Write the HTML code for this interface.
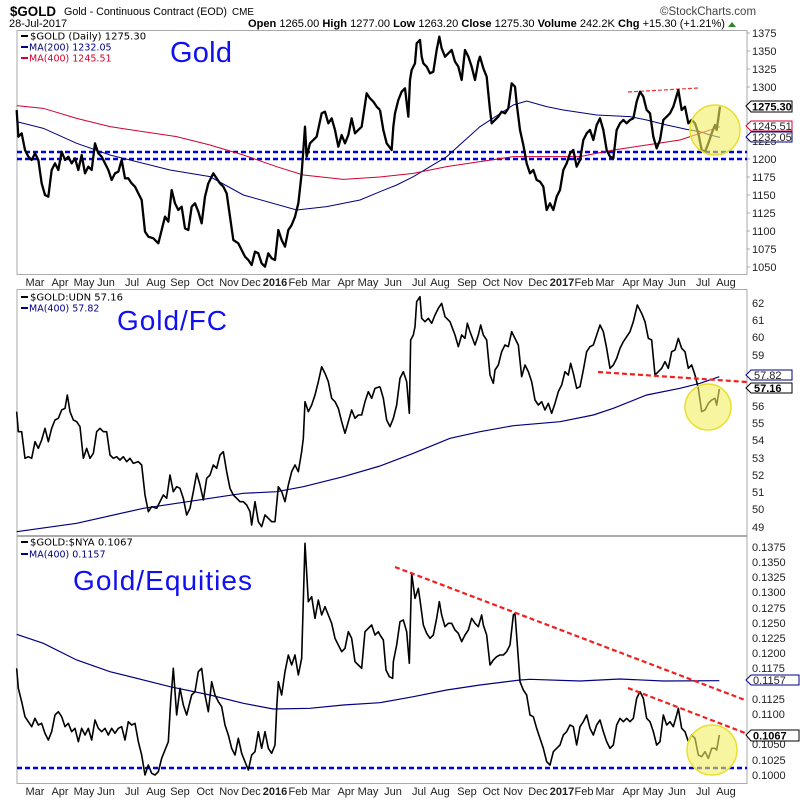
<!DOCTYPE html>
<html><head><meta charset="utf-8"><style>
html,body{margin:0;padding:0;background:#fff;}
svg{display:block;font-family:"Liberation Sans",Arial,sans-serif;}
</style></head><body>
<svg width="800" height="800" viewBox="0 0 800 800" xmlns="http://www.w3.org/2000/svg">
<rect width="800" height="800" fill="#fff"/>
<text x="10" y="16" font-size="14" font-weight="bold" textLength="46" lengthAdjust="spacingAndGlyphs">$GOLD</text>
<text x="64" y="15" font-size="11" textLength="163" lengthAdjust="spacingAndGlyphs">Gold - Continuous Contract (EOD)</text>
<text x="232" y="15" font-size="10.5" textLength="22" lengthAdjust="spacingAndGlyphs">CME</text>
<text x="660" y="15" font-size="11.5" fill="#444">©StockCharts.com</text>
<text x="9" y="27" font-size="11">28-Jul-2017</text>
<text x="248" y="27" font-size="11" textLength="477" lengthAdjust="spacingAndGlyphs"><tspan font-weight="bold">Open</tspan> 1265.00 <tspan font-weight="bold">High</tspan> 1277.00 <tspan font-weight="bold">Low</tspan> 1263.20 <tspan font-weight="bold">Close</tspan> 1275.30 <tspan font-weight="bold">Volume</tspan> 242.2K <tspan font-weight="bold">Chg</tspan> +15.30 (+1.21%)</text>
<polygon points="728,27 732,22 736,27" fill="#2a8a2a"/>

<g fill="none" stroke="#aaa" stroke-width="1">
<rect x="17" y="30.5" width="730" height="244"/>
<rect x="17" y="289.5" width="730" height="246"/>
<rect x="17" y="536.5" width="730" height="247"/>
</g>

<!-- PANEL 1 -->
<g font-size="11" fill="#222">
<text x="752" y="37">1375</text><text x="752" y="55">1350</text><text x="752" y="73">1325</text><text x="752" y="91">1300</text><text x="752" y="145">1225</text><text x="752" y="163">1200</text><text x="752" y="181">1175</text><text x="752" y="199">1150</text><text x="752" y="217">1125</text><text x="752" y="235">1100</text><text x="752" y="253">1075</text><text x="752" y="271">1050</text>
</g>
<g stroke="#aaa"><line x1="747" y1="33" x2="750" y2="33"/><line x1="747" y1="51" x2="750" y2="51"/><line x1="747" y1="69" x2="750" y2="69"/><line x1="747" y1="87" x2="750" y2="87"/><line x1="747" y1="105" x2="750" y2="105"/><line x1="747" y1="123" x2="750" y2="123"/><line x1="747" y1="141" x2="750" y2="141"/><line x1="747" y1="159" x2="750" y2="159"/><line x1="747" y1="177" x2="750" y2="177"/><line x1="747" y1="195" x2="750" y2="195"/><line x1="747" y1="213" x2="750" y2="213"/><line x1="747" y1="231" x2="750" y2="231"/><line x1="747" y1="249" x2="750" y2="249"/><line x1="747" y1="267" x2="750" y2="267"/></g>

<text x="170" y="62" font-size="29" fill="#1010f0" textLength="62">Gold</text>
<g font-family="'DejaVu Sans',sans-serif" font-size="10">
<line x1="21" y1="36" x2="28" y2="36" stroke="#000" stroke-width="2"/><text x="30" y="39.5" fill="#000">$GOLD (Daily) 1275.30</text>
<line x1="21" y1="47" x2="28" y2="47" stroke="#000080" stroke-width="2"/><text x="29" y="50.5" fill="#000080" font-size="9.5">MA(200) 1232.05</text>
<line x1="21" y1="58" x2="28" y2="58" stroke="#d00030" stroke-width="2"/><text x="29" y="61.5" fill="#d00030" font-size="9.5">MA(400) 1245.51</text>
</g>

<line x1="17" y1="152" x2="747" y2="152" stroke="#0000e8" stroke-width="2.5" stroke-dasharray="5,3"/>
<line x1="17" y1="159" x2="747" y2="159" stroke="#0000e8" stroke-width="2.5" stroke-dasharray="5,3"/>
<line x1="628" y1="92" x2="698" y2="88" stroke="#f03030" stroke-width="1.2" stroke-dasharray="4,2"/>

<g transform="translate(10,30) scale(0.33333)" fill="none">
<polyline vector-effect="non-scaling-stroke" stroke="#000080" stroke-width="1" points="20,275 100,295 200,340 300,375 480,420 600,440 700,495 860,540 950,530 1050,510 1110,485"/>
<polyline vector-effect="non-scaling-stroke" stroke="#d00030" stroke-width="1" points="20,227 100,235 200,265 300,290 500,320 600,345 700,375 800,410 880,435 1000,448 1110,441"/>
<polyline vector-effect="non-scaling-stroke" stroke="#000" stroke-width="2.3" stroke-linejoin="round" points="20,240 25,320 35,310 45,360 55,380 65,390 75,370 85,390 95,460 105,495 115,500 125,420 135,400 145,420 155,365 165,390 175,380 185,400 195,385 205,420 215,375 225,430 235,410 245,420 255,340 265,370 275,380 285,400 295,420 305,450 315,430 325,425 335,390 345,445 355,445 365,460 375,470 385,490 395,510 405,605 415,620 430,625 445,640 455,600 465,560 475,575 485,480 495,520 505,540 515,530 525,595 535,600 545,530 555,520 565,545 575,580 585,500 595,460 605,440 610,430 620,445 630,460 640,470 650,490 660,560 670,630 685,640 695,660 705,680 715,690 725,705 735,665 745,670 755,700 765,710 775,670 785,685 795,690 805,600 815,630 825,650 835,600 845,585 855,560 865,520 875,430 885,290 890,380 900,340 910,330 920,320 935,250 945,245 955,280 965,265 975,300 985,350 995,315 1005,340 1015,315 1025,265 1035,310 1045,300 1055,290 1070,190 1080,205 1090,215 1100,230 1110,240"/>
</g>
<g transform="translate(380,30) scale(0.33333)" fill="none">
<polyline vector-effect="non-scaling-stroke" stroke="#000080" stroke-width="1" points="0,485 50,465 100,440 200,380 300,290 400,225 440,213 500,230 550,240 650,255 750,260 800,270 860,285 920,298 960,305 990,315 1020,322"/>
<polyline vector-effect="non-scaling-stroke" stroke="#d00030" stroke-width="1" points="0,441 100,430 200,410 300,395 400,380 500,380 600,380 700,360 800,345 900,330 1020,290"/>
<polyline vector-effect="non-scaling-stroke" stroke="#000" stroke-width="2.3" stroke-linejoin="round" points="0,240 10,300 20,340 35,360 40,290 45,250 55,210 65,185 75,175 85,260 90,150 95,120 105,100 110,40 120,30 125,80 130,100 140,110 150,130 160,125 170,60 178,20 185,55 195,80 205,70 215,60 225,95 235,110 245,150 255,60 265,80 275,110 285,150 295,95 300,80 310,115 320,140 330,240 335,280 345,270 355,260 365,245 375,250 385,235 395,160 405,170 410,220 420,300 430,345 440,400 450,430 460,420 470,450 480,455 490,470 500,540 510,520 520,540 530,500 540,480 550,420 560,400 570,370 580,360 590,410 600,390 610,330 620,310 630,300 640,330 650,285 660,265 670,300 680,360 690,380 700,385 710,300 720,280 730,270 740,280 750,270 760,265 770,215 780,185 790,200 800,240 810,250 820,320 830,355 840,330 850,270 860,260 870,250 880,230 895,180 905,240 915,230 925,280 935,270 945,280 955,310 965,360 975,365 985,340 995,310 1005,285 1010,300 1020,230"/>
</g>
<circle cx="715" cy="130" r="25" fill="#f2ee60" fill-opacity="0.6" stroke="#e8e030" stroke-width="1.5"/>

<g font-size="11">
<polygon points="746,106 751,101 792,101 792,112 751,112" fill="#fff" stroke="#000"/>
<text x="752" y="110.5" font-weight="bold">1275.30</text>
<polygon points="746,126 751,121 792,121 792,131 751,131" fill="#fff" stroke="#d00030"/>
<text x="752" y="130" fill="#222">1245.51</text>
<polygon points="746,137 751,132 792,132 792,142 751,142" fill="#fff" stroke="#000080"/>
<text x="752" y="141" fill="#222">1232.05</text>
</g>

<g font-size="11" fill="#222" text-anchor="middle">
<text x="35" y="286">Mar</text><text x="60" y="286">Apr</text><text x="84" y="286">May</text><text x="106" y="286">Jun</text><text x="132" y="286">Jul</text><text x="156" y="286">Aug</text><text x="180" y="286">Sep</text><text x="205" y="286">Oct</text><text x="229" y="286">Nov</text><text x="251" y="286">Dec</text><text x="275" y="286" font-weight="bold">2016</text><text x="298" y="286">Feb</text><text x="321" y="286">Mar</text><text x="346" y="286">Apr</text><text x="368" y="286">May</text><text x="393" y="286">Jun</text><text x="419" y="286">Jul</text><text x="440" y="286">Aug</text><text x="467" y="286">Sep</text><text x="491" y="286">Oct</text><text x="513" y="286">Nov</text><text x="538" y="286">Dec</text><text x="562" y="286" font-weight="bold">2017</text><text x="584" y="286">Feb</text><text x="605" y="286">Mar</text><text x="631" y="286">Apr</text><text x="653" y="286">May</text><text x="677" y="286">Jun</text><text x="703" y="286">Jul</text><text x="726" y="286">Aug</text>
</g>
<g font-size="11" fill="#222" text-anchor="middle">
<text x="35" y="795">Mar</text><text x="60" y="795">Apr</text><text x="84" y="795">May</text><text x="106" y="795">Jun</text><text x="132" y="795">Jul</text><text x="156" y="795">Aug</text><text x="180" y="795">Sep</text><text x="205" y="795">Oct</text><text x="229" y="795">Nov</text><text x="251" y="795">Dec</text><text x="275" y="795" font-weight="bold">2016</text><text x="298" y="795">Feb</text><text x="321" y="795">Mar</text><text x="346" y="795">Apr</text><text x="368" y="795">May</text><text x="393" y="795">Jun</text><text x="419" y="795">Jul</text><text x="440" y="795">Aug</text><text x="467" y="795">Sep</text><text x="491" y="795">Oct</text><text x="513" y="795">Nov</text><text x="538" y="795">Dec</text><text x="562" y="795" font-weight="bold">2017</text><text x="584" y="795">Feb</text><text x="605" y="795">Mar</text><text x="631" y="795">Apr</text><text x="653" y="795">May</text><text x="677" y="795">Jun</text><text x="703" y="795">Jul</text><text x="726" y="795">Aug</text>
</g>

<!-- PANEL 2 -->
<g font-size="11" fill="#222">
<text x="752" y="307">62</text><text x="752" y="324">61</text><text x="752" y="341">60</text><text x="752" y="359">59</text><text x="752" y="410">56</text><text x="752" y="427">55</text><text x="752" y="444">54</text><text x="752" y="462">53</text><text x="752" y="479">52</text><text x="752" y="496">51</text><text x="752" y="513">50</text><text x="752" y="531">49</text>
</g>
<text x="117" y="330" font-size="28" fill="#1010f0" textLength="110">Gold/FC</text>
<g font-family="'DejaVu Sans',sans-serif" font-size="10">
<line x1="21" y1="297" x2="28" y2="297" stroke="#000" stroke-width="2"/><text x="30" y="300.5" fill="#000">$GOLD:UDN 57.16</text>
<line x1="21" y1="308" x2="28" y2="308" stroke="#000080" stroke-width="2"/><text x="29" y="311.5" fill="#000080" font-size="9.5">MA(400) 57.82</text>
</g>
<g transform="translate(10,285) scale(0.33333)" fill="none">
<polyline vector-effect="non-scaling-stroke" stroke="#000080" stroke-width="1.2" points="20,740 200,715 400,670 500,655 600,640 700,625 800,620 880,605 1000,575 1110,543"/>
<polyline vector-effect="non-scaling-stroke" stroke="#000" stroke-width="1.6" stroke-linejoin="round" points="20,380 25,440 35,440 45,520 55,515 65,520 75,470 85,490 95,465 105,430 115,470 125,430 135,405 145,400 155,375 165,370 172,330 180,380 190,405 200,410 210,425 220,520 230,490 240,520 250,505 260,440 270,430 280,440 290,440 300,510 310,520 320,515 330,525 340,515 350,530 360,520 370,535 385,530 395,540 405,630 415,680 425,665 440,670 450,650 460,630 470,640 480,570 490,620 500,605 510,610 520,640 530,690 540,670 550,620 560,565 570,600 580,645 590,580 600,570 610,540 620,550 630,510 640,500 650,560 660,610 670,630 680,640 690,650 700,650 710,660 720,680 725,720 735,650 745,710 755,725 765,690 775,700 785,710 795,710 805,605 815,620 825,650 835,600 845,560 855,540 865,560 875,500 880,460 885,350 895,380 905,360 915,330 925,290 935,245 945,265 955,290 965,340 975,350 985,370 995,410 1005,445 1015,410 1025,375 1035,400 1045,390 1055,390 1065,350 1075,320 1085,340 1095,310 1110,305"/>
</g>
<g transform="translate(380,285) scale(0.33333)" fill="none">
<polyline vector-effect="non-scaling-stroke" stroke="#000080" stroke-width="1.2" points="0,543 100,505 210,460 300,440 400,422 540,410 640,390 700,370 800,330 900,310 960,295 1018,275"/>
<polyline vector-effect="non-scaling-stroke" stroke="#000" stroke-width="1.6" stroke-linejoin="round" points="0,305 10,340 20,405 30,425 40,400 50,360 60,280 70,260 80,290 88,385 92,165 100,150 105,125 110,50 120,35 125,100 135,110 145,100 155,115 165,90 175,70 185,55 195,95 210,110 225,150 235,185 245,150 255,160 262,115 270,140 285,180 295,150 302,120 310,150 320,165 330,270 340,295 345,255 355,240 365,200 375,180 385,185 395,140 405,160 415,180 425,275 435,240 445,260 455,290 465,345 475,360 485,350 495,375 505,355 515,385 525,355 535,320 545,300 555,260 565,270 572,235 580,265 590,310 600,305 610,255 620,200 630,185 640,180 650,150 660,120 670,140 680,190 690,250 700,240 710,220 720,190 730,170 740,155 750,140 760,110 772,60 785,85 795,110 805,160 815,165 825,270 835,260 845,250 855,230 865,250 875,200 885,195 895,160 905,190 915,200 925,250 935,240 945,270 955,310 965,380 975,375 985,355 995,345 1005,340 1010,360 1018,312"/>
</g>
<line x1="598" y1="372" x2="747" y2="382" stroke="#f02020" stroke-width="2.2" stroke-dasharray="5,3"/>
<circle cx="708" cy="407" r="23" fill="#f2ee60" fill-opacity="0.6" stroke="#e8e030" stroke-width="1.5"/>
<g font-size="11">
<polygon points="746,375 751,370 792,370 792,380 751,380" fill="#fff" stroke="#000080"/>
<text x="754" y="379" fill="#222">57.82</text>
<polygon points="746,388 751,383 792,383 792,393 751,393" fill="#fff" stroke="#000"/>
<text x="754" y="392" font-weight="bold">57.16</text>
</g>

<!-- PANEL 3 -->
<g font-size="11" fill="#222">
<text x="752" y="551">0.1375</text><text x="752" y="566">0.1350</text><text x="752" y="581">0.1325</text><text x="752" y="596">0.1300</text><text x="752" y="612">0.1275</text><text x="752" y="627">0.1250</text><text x="752" y="642">0.1225</text><text x="752" y="657">0.1200</text><text x="752" y="672">0.1175</text><text x="752" y="703">0.1125</text><text x="752" y="718">0.1100</text><text x="752" y="748">0.1050</text><text x="752" y="764">0.1025</text><text x="752" y="779">0.1000</text>
</g>
<text x="73" y="590" font-size="28" fill="#1010f0" textLength="179">Gold/Equities</text>
<g font-family="'DejaVu Sans',sans-serif" font-size="10">
<line x1="21" y1="542" x2="28" y2="542" stroke="#000" stroke-width="2"/><text x="30" y="545.5" fill="#000">$GOLD:$NYA 0.1067</text>
<line x1="21" y1="554" x2="28" y2="554" stroke="#000080" stroke-width="2"/><text x="29" y="557.5" fill="#000080" font-size="9.5">MA(400) 0.1157</text>
</g>
<line x1="17" y1="768" x2="747" y2="768" stroke="#0000e8" stroke-width="2.5" stroke-dasharray="5,3"/>
<g transform="translate(10,535) scale(0.33333)" fill="none">
<polyline vector-effect="non-scaling-stroke" stroke="#000080" stroke-width="1.2" points="20,298 100,325 200,375 300,410 480,455 600,480 700,505 790,522 900,520 1000,510 1110,503"/>
<polyline vector-effect="non-scaling-stroke" stroke="#000" stroke-width="1.6" stroke-linejoin="round" points="20,400 25,460 35,500 45,545 55,560 65,575 75,550 85,570 95,565 105,595 115,615 125,590 135,540 145,530 155,545 165,575 175,565 185,590 195,580 205,620 215,580 225,600 235,580 245,615 255,555 265,580 275,590 285,580 295,600 305,580 315,595 325,580 335,575 345,615 355,560 365,570 375,565 385,620 395,660 405,720 415,690 425,715 435,720 445,710 455,670 465,645 475,620 482,500 490,400 500,540 510,460 520,510 530,540 545,480 555,470 565,410 575,400 585,480 595,530 605,440 615,480 625,500 635,515 645,570 655,600 665,640 675,660 685,610 695,655 705,680 715,705 725,660 735,650 745,590 755,640 765,590 775,640 785,655 795,630 800,520 805,440 815,480 825,410 835,360 845,390 855,360 865,420 875,370 880,195 885,25 895,200 905,185 915,250 925,195 935,240 945,215 955,240 965,265 975,310 985,330 995,350 1005,340 1015,290 1025,310 1035,380 1045,390 1055,400 1065,290 1075,280 1085,270 1095,300 1105,290 1110,300"/>
</g>
<g transform="translate(380,535) scale(0.33333)" fill="none">
<polyline vector-effect="non-scaling-stroke" stroke="#000080" stroke-width="1.2" points="0,503 100,485 200,465 300,450 420,435 450,433 600,438 720,432 850,438 1018,437"/>
<polyline vector-effect="non-scaling-stroke" stroke="#000" stroke-width="1.6" stroke-linejoin="round" points="0,300 10,315 18,405 28,425 38,430 40,380 50,330 60,260 70,255 80,290 88,385 95,115 105,190 115,160 120,195 130,270 140,295 150,310 160,300 170,250 178,200 185,240 195,275 205,265 215,265 225,285 235,295 245,320 255,300 265,285 275,250 285,265 295,275 305,240 310,270 320,300 330,390 340,375 350,365 360,360 370,360 380,350 390,330 400,240 405,235 412,330 420,440 430,465 440,480 450,540 460,545 470,580 480,610 490,640 500,680 510,690 520,650 530,640 540,630 550,600 560,590 570,570 580,575 590,630 600,575 610,560 620,540 630,580 640,600 650,570 660,555 670,590 680,620 690,640 700,630 710,570 720,550 730,560 740,550 750,560 760,550 770,490 780,470 790,490 800,550 810,560 820,590 830,630 840,620 850,540 860,570 870,560 880,575 890,540 895,520 905,580 915,590 925,620 935,600 945,610 955,660 965,665 975,650 985,670 995,640 1005,640 1010,645 1018,600"/>
</g>
<line x1="395" y1="567" x2="745" y2="700" stroke="#f02020" stroke-width="2.2" stroke-dasharray="5,3"/>
<line x1="628" y1="688" x2="745" y2="733" stroke="#f02020" stroke-width="2.2" stroke-dasharray="5,3"/>
<circle cx="712" cy="750" r="25" fill="#f2ee60" fill-opacity="0.6" stroke="#e8e030" stroke-width="1.5"/>
<g font-size="11">
<polygon points="746,680 751,675 799,675 799,685 751,685" fill="#fff" stroke="#000080"/>
<text x="753" y="684" fill="#222">0.1157</text>
<polygon points="746,735 751,730 799,730 799,741 751,741" fill="#fff" stroke="#000"/>
<text x="753" y="739.5" font-weight="bold">0.1067</text>
</g>
</svg>
</body></html>
